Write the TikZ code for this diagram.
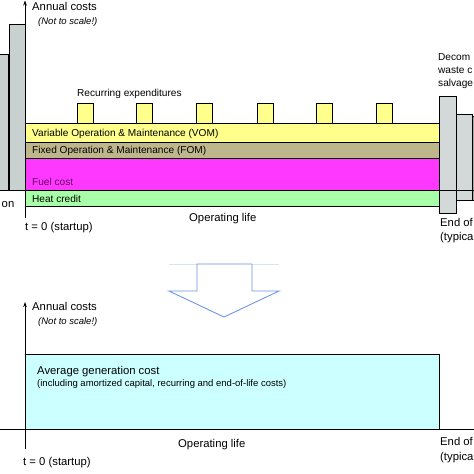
\documentclass[tikz,border=0pt]{standalone}
\usepackage{fontspec}
\setmainfont{Liberation Sans}
\usetikzlibrary{arrows.meta}
\definecolor{vomY}{HTML}{FFFF8C}
\definecolor{fomK}{HTML}{BEB78C}
\definecolor{fuelM}{HTML}{FF38FF}
\definecolor{heatG}{HTML}{A8FFA8}
\definecolor{barGray}{HTML}{D3D8D8}
\definecolor{barGrayL}{HTML}{C8D0D0}
\definecolor{avgC}{HTML}{CCFFFF}
\definecolor{arrB}{HTML}{6E96E0}
\definecolor{arrF}{HTML}{D6E4F4}
\definecolor{fuelT}{HTML}{660066}
\begin{document}
\begin{tikzpicture}[x=1pt,y=-1pt,
  lbl/.style={anchor=base west, inner sep=0pt, font=\fontsize{10.1}{12}\selectfont},
  big/.style={anchor=base west, inner sep=0pt, font=\fontsize{11.3}{13}\selectfont},
  note/.style={anchor=base west, inner sep=0pt, font=\fontsize{9.5}{11}\selectfont\itshape},
  small/.style={anchor=base west, inner sep=0pt, font=\fontsize{9.5}{11}\selectfont},
  band/.style={draw=black, line width=0.7pt},
  bar/.style={draw=black, line width=0.7pt, fill=barGray},
  axisline/.style={line width=0.8pt, -{Stealth[length=5pt,width=3.5pt]}},
  baseline/.style={line width=0.8pt},
  blockarrow/.style={draw=arrB, fill=white, line width=0.9pt, line join=miter}]
\useasboundingbox (0,0) rectangle (474,474);
\fill[white] (0,0) rectangle (474,474);

% ---------- top panel ----------
% construction bars (left)
\filldraw[bar, fill=barGrayL] (-10,54) rectangle (8,190);
\filldraw[bar, fill=barGrayL] (9,24) rectangle (25,190);
% end-of-life bars (right)
\filldraw[bar] (439,96) rectangle (456,213);
\filldraw[bar] (456,114) rectangle (472,200);
\filldraw[bar, fill=gray!70] (472,116) rectangle (490,200);

% recurring expenditures
\foreach \x in {77,136,196,257,316,376}
  \filldraw[band, fill=vomY] (\x,103) rectangle ++(16,20);

% cost bands
\filldraw[band, fill=vomY]  (25,123) rectangle (439,142);
\filldraw[band, fill=fomK]  (25,142) rectangle (439,158);
\filldraw[band, fill=fuelM] (25,158) rectangle (439,190);
\filldraw[band, fill=heatG] (25,190) rectangle (439,206);

% axes
\coordinate (t0b) at (25,218);
\coordinate (t0t) at (25,0.5);
\coordinate (hl) at (0,190);
\coordinate (hr) at (474,190);
\draw[baseline] (hl) -- (hr);
\draw[axisline] (t0b) -- (t0t);

% labels
\node[big]  (ac1) at (32,10) {Annual costs};
\node[note] (ns1) at (38,24) {(Not to scale!)};
\node[lbl]  (rec) at (77,96) {Recurring expenditures};
\node[lbl]  (vom) at (32,136) {Variable Operation \& Maintenance (VOM)};
\node[lbl]  (fom) at (32,153) {Fixed Operation \& Maintenance (FOM)};
\node[lbl, text=fuelT] (fuel) at (32,185) {Fuel cost};
\node[lbl]  (heat) at (32,202) {Heat credit};
\node[big, anchor=base east] (con) at (14.5,207) {on};
\node[big]  (op1) at (189,221) {Operating life};
\node[big]  (ts1) at (25,230) {t = 0 (startup)};
\node[lbl]  (dec1) at (438,60) {Decom};
\node[lbl]  (dec2) at (438,73) {waste c};
\node[lbl]  (dec3) at (438,86) {salvage};
\node[big]  (eol1) at (440,226) {End of};
\node[big]  (typ1) at (440,240) {(typica};

% ---------- block arrow ----------
\draw[arrF, line width=0.6pt] (169,264) -- (279,264);
\draw[blockarrow] (197,264) -- (252,264) -- (252,291) -- (279,291) -- (224,317)
   -- (169,291) -- (197,291) -- cycle;

% ---------- bottom panel ----------
\filldraw[band, fill=avgC] (25,354) rectangle (439,429);
\coordinate (b0b) at (25,449);
\coordinate (b0t) at (25,302);
\coordinate (bl) at (0,429);
\coordinate (br) at (474,429);
\draw[baseline] (bl) -- (br);
\draw[axisline] (b0b) -- (b0t);

\node[big]  (ac2) at (32,310) {Annual costs};
\node[note] (ns2) at (38,324) {(Not to scale!)};
\node[big]  (avg) at (37,374) {Average generation cost};
\node[small] (inc) at (37,386) {(including amortized capital, recurring and end-of-life costs)};
\node[big]  (op2) at (178,447) {Operating life};
\node[big]  (ts2) at (23,465) {t = 0 (startup)};
\node[big]  (eol2) at (440,445) {End of};
\node[big]  (typ2) at (440,460) {(typica};
\end{tikzpicture}
\end{document}
